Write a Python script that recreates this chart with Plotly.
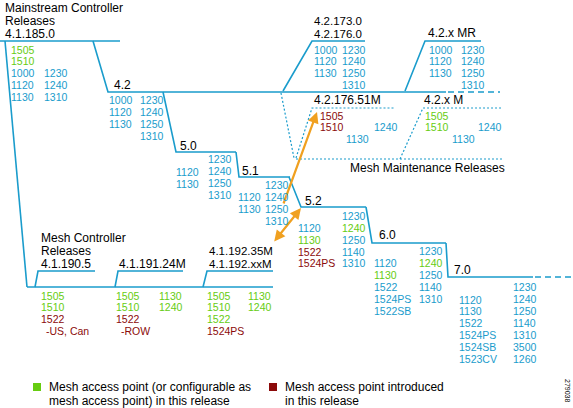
import plotly.graph_objects as go

BLUE = "#1a9ccc"
GREEN = "#66cc11"
RED = "#8b0a0a"
ORANGE = "#f0a020"

# solid release paths (x list, y list)
solid_paths = [
    ([0, 120], [41, 41]),
    ([5, 27], [41, 287]),
    ([27, 273], [287, 287]),
    ([35, 38, 95], [287, 271, 271]),
    ([115, 118, 183], [287, 271, 271]),
    ([203, 207, 273], [287, 271, 271]),
    ([93, 108, 446], [41, 92, 92]),
    ([163, 176, 236], [92, 152, 152]),
    ([236, 239, 290], [152, 177, 177]),
    ([289, 301, 366], [177, 207, 207]),
    ([366, 372, 446], [207, 243, 243]),
    ([446, 448, 533], [243, 277, 277]),
    ([283, 312, 365], [91, 41, 41]),
    ([405, 425, 481], [91, 41, 41]),
]
dashed_paths = [([448, 500], [92, 92]), ([535, 573], [277, 277])]
dotted_paths = [
    ([281, 294], [93, 158]),
    ([296, 312, 394], [158, 108, 108]),
    ([296, 502], [159, 159]),
    ([400, 423, 501], [159, 108, 108]),
]
arrows = [  # (x0,y0) -> (x1,y1), double
    (283, 205, 317, 112, False),
    (273, 243, 301, 208, True),
]

# labels: (x, y, text, size)
black_labels = [
    (3, 8, "Mainstream Controller", 12), (3, 21, "Releases", 12), (3, 34, "4.1.185.0", 12),
    (112, 85, "4.2", 12), (178, 146, "5.0", 12), (240, 171, "5.1", 12),
    (303, 201, "5.2", 12), (377, 235, "6.0", 12), (452, 270, "7.0", 12),
    (312, 20.5, "4.2.173.0", 11.5), (312, 33.5, "4.2.176.0", 11.5), (426, 33, "4.2.x MR", 12),
    (312, 100, "4.2.176.51M", 12), (422, 100, "4.2.x M", 12),
    (348, 168, "Mesh Maintenance Releases", 12),
    (39, 238, "Mesh Controller", 12), (39, 251, "Releases", 12), (39, 264, "4.1.190.5", 12),
    (117, 264, "4.1.191.24M", 12), (207, 250.5, "4.1.192.35M", 11.5), (207, 263.5, "4.1.192.xxM", 11.5),
    (47, 387, "Mesh access point (or configurable as", 12),
    (47, 401, "mesh access point) in this release", 12),
    (283, 387, "Mesh access point introduced", 12), (283, 401, "in this release", 12),
]
B, G, R = "b", "g", "r"
model_cols = [
    (9, [(50, "1505", G), (61, "1510", G), (73, "1000", B), (85, "1120", B), (97, "1130", B)]),
    (42, [(73, "1230", B), (85, "1240", B), (97, "1310", B)]),
    (107, [(100, "1000", B), (112, "1120", B), (124, "1130", B)]),
    (138, [(100, "1230", B), (112, "1240", B), (124, "1250", B), (136, "1310", B)]),
    (174, [(172, "1120", B), (184, "1130", B)]),
    (206, [(159, "1230", B), (171, "1240", B), (183, "1250", B), (195, "1310", B)]),
    (236, [(197, "1120", B), (209, "1130", B)]),
    (263, [(185, "1230", B), (197, "1240", B), (209, "1250", B), (221, "1310", B)]),
    (296, [(228, "1120", B), (240, "1130", G), (252, "1522", R), (263, "1524PS", R)]),
    (340, [(216, "1230", B), (228, "1240", G), (240, "1250", B), (252, "1140", B), (263, "1310", B)]),
    (372, [(263, "1120", B), (275, "1130", G), (287, "1522", B), (299, "1524PS", B), (311, "1522SB", B)]),
    (417, [(251, "1230", B), (263, "1240", G), (275, "1250", B), (287, "1140", B), (299, "1310", B)]),
    (457, [(300, "1120", B), (311, "1130", B), (323, "1522", B), (335, "1524PS", B), (347, "1524SB", B), (359, "1523CV", B)]),
    (511, [(287, "1230", B), (299, "1240", B), (311, "1250", B), (323, "1140", B), (335, "1310", B), (347, "3500", B), (359, "1260", B)]),
    (312, [(50, "1000", B), (61, "1120", B), (73, "1130", B)]),
    (340, [(50, "1230", B), (61, "1240", B), (73, "1250", B), (85, "1310", B)]),
    (427, [(50, "1000", B), (61, "1120", B), (73, "1130", B)]),
    (459, [(50, "1230", B), (61, "1240", B), (73, "1250", B), (85, "1310", B)]),
    (318, [(116, "1505", R), (127, "1510", R)]),
    (372, [(127, "1240", B)]), (344, [(139, "1130", B)]),
    (423, [(116, "1505", G), (127, "1510", G)]),
    (476, [(127, "1240", B)]), (450, [(139, "1130", B)]),
    (39, [(296, "1505", G), (307, "1510", G), (319, "1522", R)]),
    (44, [(331, "-US, Can", R)]),
    (114, [(296, "1505", G), (307, "1510", G), (319, "1522", R)]),
    (119, [(331, "-ROW", R)]),
    (157, [(296, "1130", G), (307, "1240", G)]),
    (205, [(296, "1505", G), (307, "1510", G), (319, "1522", G), (331, "1524PS", R)]),
    (246, [(296, "1130", G), (307, "1240", G)]),
]
cmap = {B: BLUE, G: GREEN, R: RED}
FONT = "Liberation Sans, Arial"

fig = go.Figure()
for xs, ys in solid_paths:
    fig.add_trace(go.Scatter(x=xs, y=ys, mode="lines", line=dict(color=BLUE, width=1.6), hoverinfo="skip"))
for xs, ys in dashed_paths:
    fig.add_trace(go.Scatter(x=xs, y=ys, mode="lines", line=dict(color=BLUE, width=1.6, dash="6px,4px"), hoverinfo="skip"))
for xs, ys in dotted_paths:
    fig.add_trace(go.Scatter(x=xs, y=ys, mode="lines", line=dict(color=BLUE, width=1.2, dash="2px,2px"), hoverinfo="skip"))

anns = []
for x0, y0, x1, y1, dbl in arrows:
    anns.append(dict(x=x1, y=y1, ax=x0, ay=y0, xref="x", yref="y", axref="x", ayref="y",
                     showarrow=True, arrowhead=2, arrowsize=1, arrowwidth=2.2, arrowcolor=ORANGE,
                     arrowside="end+start" if dbl else "end", text=""))
for x, y, t, s in black_labels:
    anns.append(dict(x=x, y=y, text=t, showarrow=False, xanchor="left", yanchor="middle",
                     font=dict(family=FONT, size=s, color="black")))
for x, items in model_cols:
    for y, t, c in items:
        anns.append(dict(x=x, y=y, text=t, showarrow=False, xanchor="left", yanchor="middle",
                         font=dict(family=FONT, size=10.5, color=cmap[c])))
anns.append(dict(x=568, y=390, text="279038", showarrow=False, textangle=90,
                 font=dict(family=FONT, size=7, color="black")))

shapes = [
    dict(type="rect", x0=33, x1=41, y0=383, y1=391, fillcolor=GREEN, line=dict(width=0)),
    dict(type="rect", x0=269, x1=277, y0=383, y1=391, fillcolor=RED, line=dict(width=0)),
]

fig.update_layout(width=573, height=408, margin=dict(l=0, r=0, t=0, b=0),
                  paper_bgcolor="white", plot_bgcolor="white", showlegend=False,
                  annotations=anns, shapes=shapes,
                  xaxis=dict(range=[0, 573], visible=False, fixedrange=True),
                  yaxis=dict(range=[408, 0], visible=False, fixedrange=True))
fig.write_html("out.html", config={"displayModeBar": False},
               post_script="document.body.style.margin='0';document.body.style.overflow='hidden';")
